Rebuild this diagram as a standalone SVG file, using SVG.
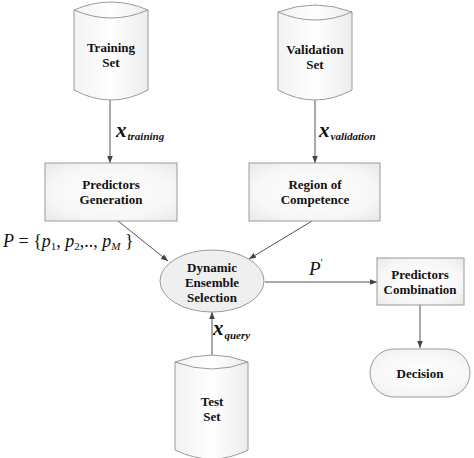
<svg xmlns="http://www.w3.org/2000/svg" width="474" height="458" viewBox="0 0 474 458">
<defs>
<linearGradient id="cyl" x1="0" y1="0" x2="1" y2="0">
<stop offset="0" stop-color="#f2f2f2"/>
<stop offset="0.5" stop-color="#ffffff"/>
<stop offset="1" stop-color="#ececec"/>
</linearGradient>
<radialGradient id="box" cx="0.5" cy="0.5" r="0.75">
<stop offset="0" stop-color="#ffffff"/>
<stop offset="0.6" stop-color="#f7f7f7"/>
<stop offset="1" stop-color="#e6e6e6"/>
</radialGradient>
<marker id="arr" viewBox="0 0 10 10" refX="10" refY="5" markerWidth="7" markerHeight="7" orient="auto" markerUnits="userSpaceOnUse">
<path d="M0,1 L10,5 L0,9 z" fill="#444"/>
</marker>
</defs>
<style>
.shape{stroke:#9a9a9a;stroke-width:1}
.cyl{fill:url(#cyl)}
.box{fill:url(#box)}
.lbl{font-family:"Liberation Serif","Times New Roman",serif;font-weight:bold;font-size:13px;fill:#111;text-anchor:middle}
.conn{stroke:#555;stroke-width:1;fill:none;marker-end:url(#arr)}
.math{font-family:"Liberation Serif","Times New Roman",serif;font-style:italic;fill:#111}
.xv{font-weight:bold;font-size:21px}
.sub{font-weight:bold;font-size:11px}
</style>

<g id="connectors">
<line class="conn" x1="110" y1="100" x2="110" y2="163"/>
<line class="conn" x1="315" y1="100" x2="315" y2="163"/>
<line class="conn" x1="118" y1="221" x2="168" y2="261"/>
<line class="conn" x1="312" y1="221" x2="249" y2="259"/>
<line class="conn" x1="212" y1="355" x2="212" y2="312"/>
<line class="conn" x1="265" y1="282" x2="377" y2="282"/>
<line class="conn" x1="420" y1="305" x2="420" y2="348"/>
</g>

<g id="training-set">
<path class="shape cyl" d="M74,10 Q111,-6 148,10 L148,90 Q111,110 74,90 Z"/>
<path class="shape" fill="none" d="M74,10 Q111,26 148,10"/>
<text class="lbl" x="111" y="52">Training</text>
<text class="lbl" x="111" y="67">Set</text>
</g>

<g id="validation-set">
<path class="shape cyl" d="M278,12 Q315,-2 352,12 L352,90 Q315,110 278,90 Z"/>
<path class="shape" fill="none" d="M278,12 Q315,28 352,12"/>
<text class="lbl" x="315" y="54">Validation</text>
<text class="lbl" x="315" y="69">Set</text>
</g>

<g id="label-xtraining">
<text class="math" x="116" y="137"><tspan class="xv">x</tspan><tspan class="sub" dx="1" dy="3">training</tspan></text>
</g>
<g id="label-xvalidation">
<text class="math" x="319" y="137"><tspan class="xv">x</tspan><tspan class="sub" dx="1" dy="3">validation</tspan></text>
</g>

<g id="predictors-generation">
<rect class="shape box" x="45" y="163" width="132" height="58"/>
<text class="lbl" x="111" y="189">Predictors</text>
<text class="lbl" x="111" y="204">Generation</text>
</g>

<g id="region-of-competence">
<rect class="shape box" x="249" y="163" width="131" height="58"/>
<text class="lbl" x="315" y="189">Region of</text>
<text class="lbl" x="315" y="204">Competence</text>
</g>

<g id="label-P">
<text class="math" x="3" y="247" font-size="18">P<tspan font-style="normal"> = {</tspan>p<tspan font-style="normal" font-size="11" dy="3">1</tspan><tspan font-style="normal" dy="-3">, </tspan>p<tspan font-style="normal" font-size="11" dy="3">2</tspan><tspan font-style="normal" dy="-3">,.., </tspan>p<tspan font-size="11" dy="3">M</tspan><tspan font-style="normal" dy="-3"> }</tspan></text>
</g>

<g id="dynamic-ensemble-selection">
<ellipse class="shape" fill="#efefef" cx="212" cy="281" rx="52" ry="31"/>
<text class="lbl" x="212" y="272">Dynamic</text>
<text class="lbl" x="212" y="287">Ensemble</text>
<text class="lbl" x="212" y="302">Selection</text>
</g>

<g id="label-Pprime">
<text class="math" x="309" y="275" font-size="19">P<tspan font-size="11" dy="-9" font-style="normal">′</tspan></text>
</g>

<g id="predictors-combination">
<rect class="shape box" x="377" y="258" width="87" height="47"/>
<text class="lbl" x="420" y="279">Predictors</text>
<text class="lbl" x="420" y="294">Combination</text>
</g>

<g id="decision">
<rect class="shape box" x="370" y="349" width="100" height="48" rx="24" ry="24"/>
<text class="lbl" x="420" y="378">Decision</text>
</g>

<g id="label-xquery">
<text class="math" x="213" y="335"><tspan class="xv">x</tspan><tspan class="sub" dx="1" dy="4">query</tspan></text>
</g>

<g id="test-set">
<path class="shape cyl" d="M175,362 Q212,348 248,362 L248,450 Q212,468 175,450 Z"/>
<path class="shape" fill="none" d="M175,362 Q212,376 248,362"/>
<text class="lbl" x="212" y="406">Test</text>
<text class="lbl" x="212" y="421">Set</text>
</g>
</svg>
